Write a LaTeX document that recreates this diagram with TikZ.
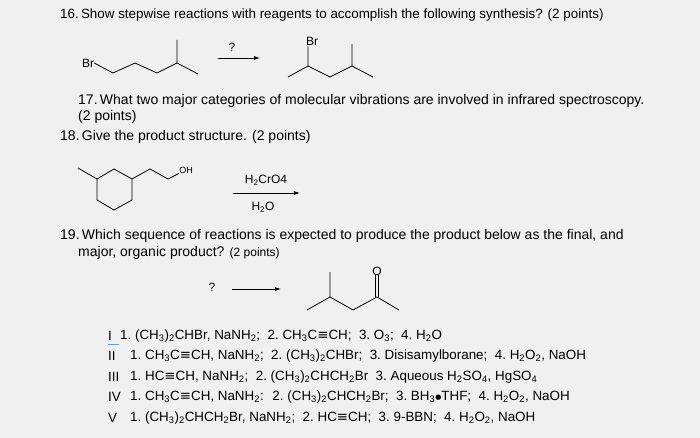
\documentclass[tikz,border=0pt]{standalone}
\usepackage{fontspec}
\setmainfont{Liberation Sans}
\newfontfamily\dv{DejaVu Sans}
\usetikzlibrary{arrows.meta}
\newcommand{\tb}{{\dv ≡}}
\newcommand{\s}[1]{\textsubscript{#1}}
\begin{document}
\begin{tikzpicture}[x=1pt,y=-1pt,
  q/.style={anchor=west,inner sep=0pt,font=\fontsize{14}{16}\selectfont},
  li/.style={anchor=west,inner sep=0pt,font=\fontsize{13.4}{15}\selectfont},
  lab/.style={inner sep=0pt,font=\fontsize{12}{14}\selectfont},
  bond/.style={line width=0.8pt},
  rxn/.style={line width=0.8pt,-{Latex[length=6pt,width=4pt]}},
  wavy/.style={line width=1pt,color=blue!50!cyan!70!white}]
\fill[gray!12] (0,0) rectangle (700,438);
\useasboundingbox (0,0) rectangle (700,438);
% Q16
\node[q,font=\fontsize{13.4}{16}\selectfont] (q16) at (60,15) {16.\,Show stepwise reactions with reagents to accomplish the following synthesis? (2 points)};
\node[lab] (br1) at (88,63) {Br};
\coordinate (a1) at (113,73); \coordinate (a2) at (135,63); \coordinate (a3) at (157,73);
\coordinate (a4) at (177,63); \coordinate (a5) at (177,40); \coordinate (a6) at (198,74);
\draw[bond] (br1.east) -- (a1) -- (a2) -- (a3) -- (a4) -- (a5) (a4) -- (a6);
\node[lab] (qm1) at (232,47) {?};
\coordinate (r1s) at (218,58); \coordinate (r1e) at (260,58);
\draw[rxn] (r1s) -- (r1e);
\coordinate (b1) at (288,77); \coordinate (b2) at (308,66); \coordinate (b4) at (330,77);
\coordinate (b5) at (352,66); \coordinate (b6) at (352,44); \coordinate (b7) at (373,77);
\node[lab] (br2) at (312,41) {Br};
\draw[bond] (b1) -- (b2) -- (b4) -- (b5) -- (b6) (b5) -- (b7) (b2) -- ([yshift=-1pt]b2 |- br2.south);
% Q17
\node[q] (q17) at (78,101) {17.\,What two major categories of molecular vibrations are involved in infrared spectroscopy.};
\node[q] (q17b) at (78,117) {(2 points)};
% Q18
\node[q] (q18) at (60,137) {18.\,Give the product structure. (2 points)};
\coordinate (m) at (78,168); \coordinate (c1) at (97,179); \coordinate (c2) at (114,169);
\coordinate (c3) at (132,179); \coordinate (c4) at (132,200); \coordinate (c5) at (114,210);
\coordinate (c6) at (97,200); \coordinate (d1) at (150,169); \coordinate (d2) at (168,179);
\node[lab,font=\fontsize{9}{10}\selectfont] (oh) at (186,170) {OH};
\draw[bond] (m) -- (c1);
\draw[bond] (c1) -- (c2) -- (c3) -- (c4) -- (c5) -- (c6) -- cycle;
\draw[bond] (c3) -- (d1) -- (d2) -- (oh.south west);
\coordinate (r2s) at (233,193); \coordinate (r2e) at (300,193);
\draw[rxn] (r2s) -- (r2e);
\node[lab] (ox) at (266,180) {H\s{2}CrO4};
\node[lab] (w) at (263,207) {H\s{2}O};
% Q19
\node[q] (q19) at (60,236) {19.\,Which sequence of reactions is expected to produce the product below as the final, and};
\node[q] (q19b) at (78,253) {major, organic product? \fontsize{12}{14}\selectfont(2 points)};
\node[lab] (qm2) at (212,287) {?};
\coordinate (r3s) at (232,289); \coordinate (r3e) at (281,289);
\draw[rxn] (r3s) -- (r3e);
\coordinate (e1) at (307,310); \coordinate (e2) at (330,297); \coordinate (e3) at (330,272);
\coordinate (e4) at (353,310); \coordinate (e5) at (377,297); \coordinate (e7) at (399,310);
\node[lab] (o) at (377,271) {O};
\draw[bond] (e1) -- (e2) -- (e4) -- (e5) -- (e7) (e2) -- (e3);
\draw[bond] ([xshift=-1.5pt]e5) -- ([xshift=-1.5pt]o.south) ([xshift=1.5pt]e5) -- ([xshift=1.5pt]o.south);
% list
\node[li] (n1) at (108,336) {I};
\node[li] (n2) at (108,356) {II};
\node[li] (n3) at (108,377) {III};
\node[li] (n4) at (108,397) {IV};
\node[li] (n5) at (108,418) {V};
\node[li] (l1) at (120,336) {1.\ (CH\s{3})\s{2}CHBr, NaNH\s{2}; \ 2.\ CH\s{3}C\tb CH; \ 3.\ O\s{3}; \ 4.\ H\s{2}O};
\node[li] (l2) at (130,356) {1.\ CH\s{3}C\tb CH, NaNH\s{2}; \ 2.\ (CH\s{3})\s{2}CHBr; \ 3.\ Disisamylborane; \ 4.\ H\s{2}O\s{2}, NaOH};
\node[li] (l3) at (130,377) {1.\ HC\tb CH, NaNH\s{2}; \ 2.\ (CH\s{3})\s{2}CHCH\s{2}Br \ 3.\ Aqueous H\s{2}SO\s{4}, HgSO\s{4}};
\node[li] (l4) at (130,397) {1.\ CH\s{3}C\tb CH, NaNH\s{2}: \ 2.\ (CH\s{3})\s{2}CHCH\s{2}Br; \ 3.\ BH\s{3}{\dv\raisebox{.5pt}{\scriptsize●}}THF; \ 4.\ H\s{2}O\s{2}, NaOH};
\node[li] (l5) at (130,418) {1.\ (CH\s{3})\s{2}CHCH\s{2}Br, NaNH\s{2}; \ 2.\ HC\tb CH; \ 3.\ 9-BBN; \ 4.\ H\s{2}O\s{2}, NaOH};
\coordinate (u1) at (108,344); \coordinate (u2) at (119,344);
\draw[wavy] (u1) -- (u2);
\end{tikzpicture}
\end{document}
